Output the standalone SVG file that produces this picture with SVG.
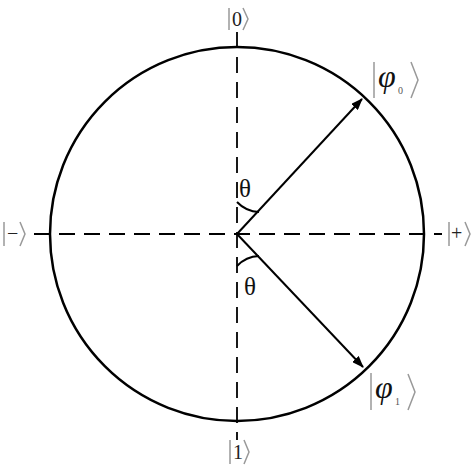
<svg xmlns="http://www.w3.org/2000/svg" width="474" height="474" viewBox="0 0 474 474">
<defs>
<style>
.ax{stroke:#000;stroke-width:1.8;stroke-dasharray:16 9;fill:none}
.ln{stroke:#000;stroke-width:2;fill:none}
.t{font-family:"Liberation Serif",serif;font-size:20px;fill:#222}
.phi{font-family:"Liberation Serif",serif;font-size:32px;font-style:italic;fill:#111}
.sub{font-family:"Liberation Serif",serif;font-size:10px;fill:#555}
.th{font-family:"Liberation Serif",serif;font-size:25px;fill:#111}
.bar{stroke:#999;stroke-width:1.5;fill:none}
</style>
<marker id="ah" markerWidth="12" markerHeight="9" refX="11" refY="4.5" orient="auto" markerUnits="userSpaceOnUse"><path d="M0,0 L12,4.5 L0,9 Z" fill="#000"/></marker>
</defs>
<g id="circle"><circle cx="237" cy="234" r="187" stroke="#000" stroke-width="2.5" fill="none"/></g>
<g id="connectors">
<line class="ax" x1="237" y1="32" x2="237" y2="440"/>
<line class="ax" x1="34" y1="234" x2="442" y2="234"/>
<line class="ln" x1="237" y1="234" x2="362" y2="99" marker-end="url(#ah)"/>
<line class="ln" x1="237" y1="234" x2="363" y2="367" marker-end="url(#ah)"/>
<path class="ln" stroke-width="1.3" d="M237,202 A32,32 0 0 0 259,212"/>
<path class="ln" stroke-width="1.3" d="M237,266 A32,32 0 0 1 259,256"/>
</g>
<g id="ket0"><line class="bar" x1="229" y1="8" x2="229" y2="30"/><text class="t" x="232" y="26">0</text><path class="bar" d="M243,8 L248,19 L243,30"/></g>
<g id="ket1"><line class="bar" x1="230" y1="440" x2="230" y2="464"/><text class="t" x="233" y="459">1</text><path class="bar" d="M244,440 L249,452 L244,464"/></g>
<g id="ketminus"><line class="bar" x1="4" y1="222" x2="4" y2="246"/><text class="t" x="7" y="240">−</text><path class="bar" d="M20,222 L25,234 L20,246"/></g>
<g id="ketplus"><line class="bar" x1="449" y1="222" x2="449" y2="246"/><text class="t" x="451" y="240">+</text><path class="bar" d="M465,222 L470,234 L465,246"/></g>
<g id="phi0"><line class="bar" x1="374" y1="62" x2="374" y2="98"/><text class="phi" x="378" y="87">φ</text><text class="sub" x="398" y="94">0</text><path class="bar" d="M411,62 L418,80 L411,98"/></g>
<g id="phi1"><line class="bar" x1="371" y1="373" x2="371" y2="410"/><text class="phi" x="375" y="398">φ</text><text class="sub" x="395" y="405">1</text><path class="bar" d="M408,374 L415,392 L408,410"/></g>
<g id="theta1"><text class="th" x="239" y="197">θ</text></g>
<g id="theta2"><text class="th" x="244" y="295">θ</text></g>
</svg>
